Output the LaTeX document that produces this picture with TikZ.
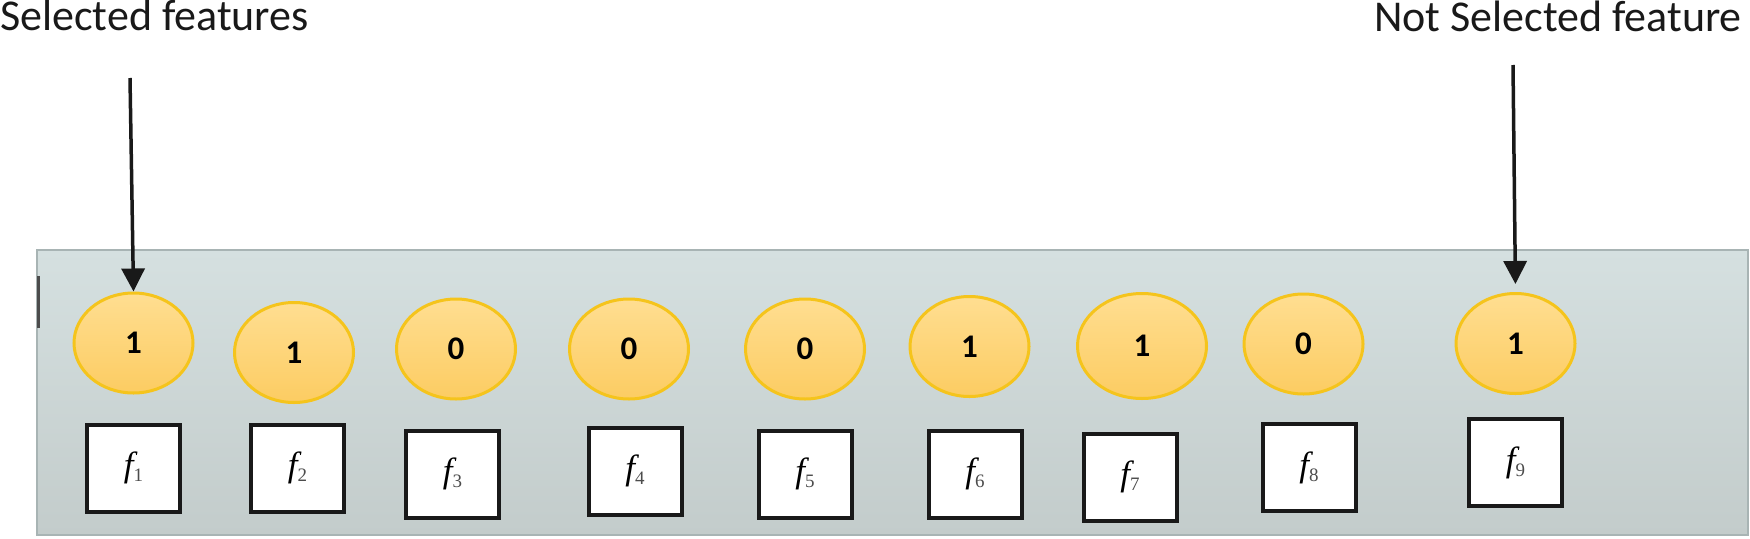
\documentclass[tikz,border=0pt]{standalone}
\usepackage{xcolor}
\usepackage{fontspec}
\setmainfont{Carlito}
\newfontfamily\serifit{Liberation Serif}
\usepackage{tikz}
\usetikzlibrary{
    positioning,
    arrows.meta,
    shapes.geometric
}
\definecolor{panelTop}{RGB}{213, 224, 224}
\definecolor{panelBot}{RGB}{195, 204, 203}
\definecolor{panelEdge}{RGB}{168, 180, 180}
\definecolor{bitTop}{RGB}{255, 222, 145}
\definecolor{bitBot}{RGB}{252, 204, 98}
\definecolor{bitEdge}{RGB}{245, 196, 28}
\definecolor{featEdge}{RGB}{25, 25, 25}

\newcommand{\feat}[1]{\raisebox{7pt}{{\serifit\itshape f}{\serifit\fontsize{19}{19}\selectfont\color{black!70}\raisebox{-5pt}{#1}}}}

\tikzset{
    bit/.style={ellipse, draw=bitEdge, line width=3pt, top color=bitTop, bottom color=bitBot,
        minimum width=119pt, minimum height=100pt, inner sep=0pt,
        font=\fontsize{33}{33}\selectfont\bfseries},
    featbox/.style={rectangle, draw=featEdge, line width=4pt, fill=white,
        minimum width=93pt, minimum height=87pt, inner sep=0pt,
        font=\fontsize{35}{35}\selectfont},
    pointer/.style={-{Triangle[width=23pt, length=23pt]}, line width=3.5pt, black!90},
    caption/.style={font=\fontsize{44}{44}\selectfont, text=black!90, inner sep=0pt}
}

\begin{document}
\begin{tikzpicture}[x=1pt, y=-1pt]
        \useasboundingbox (0,0) rectangle (1750,538);
        % panel
        \draw[draw=panelEdge, line width=2pt, top color=panelTop, bottom color=panelBot]
            (37,250) rectangle (1748,535);
        \draw[line width=3pt, black!70] (38,276) -- (38,328);
        % bits
        \node[bit] (c1) at (133.5,343) {1};
        \node[bit] (c2) at (294,352.5) {1};
        \node[bit] (c3) at (456,349) {0};
        \node[bit] (c4) at (629,349) {0};
        \node[bit] (c5) at (805,349) {0};
        \node[bit] (c6) at (969.5,346.5) {1};
        \node[bit, minimum width=129pt, minimum height=105pt] (c7) at (1142,346) {1};
        \node[bit] (c8) at (1303.5,344) {0};
        \node[bit] (c9) at (1515.5,343.5) {1};
        % features
        \node[featbox] (f1) at (133.5,468) {\feat{1}};
        \node[featbox] (f2) at (297.5,468) {\feat{2}};
        \node[featbox] (f3) at (452.5,474) {\feat{3}};
        \node[featbox] (f4) at (635,471) {\feat{4}};
        \node[featbox] (f5) at (805,474) {\feat{5}};
        \node[featbox] (f6) at (975,474) {\feat{6}};
        \node[featbox] (f7) at (1130,477) {\feat{7}};
        \node[featbox] (f8) at (1309,467.5) {\feat{8}};
        \node[featbox] (f9) at (1515.5,462.5) {\feat{9}};
        % captions and pointers
        \node[caption, anchor=base west] (sel) at (0,30) {Selected features};
        \node[caption, anchor=base east] (nsel) at (1742,31) {Not Selected feature};
        \coordinate (selTop) at (130,78);
        \coordinate (nselTop) at (1513,65);
        \draw[pointer] (selTop) -- (c1.north);
        \draw[pointer, shorten >=8pt] (nselTop) -- (c9.north);
    \end{tikzpicture}
\end{document}
